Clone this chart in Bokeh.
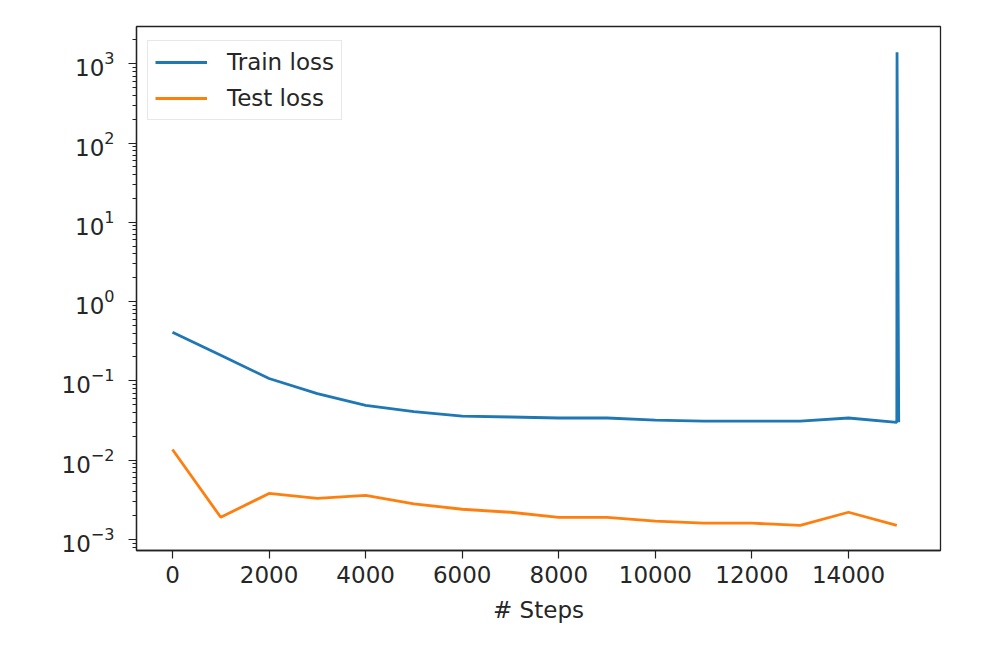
from bokeh.plotting import figure
from bokeh.models import Range1d, FixedTicker, Legend, LegendItem, BasicTickFormatter, LogTickFormatter
from bokeh.embed import file_html
from bokeh.resources import INLINE

# Data
train_steps = [0, 1000, 2000, 3000, 4000, 5000, 6000, 7000, 8000, 9000, 10000,
               11000, 12000, 13000, 14000, 15000, 15005, 15040]
train_loss = [0.41, 0.21, 0.107, 0.069, 0.049, 0.041, 0.036, 0.035, 0.034, 0.034,
              0.032, 0.031, 0.031, 0.031, 0.034, 0.030, 1400.0, 0.030]

test_steps = [0, 1000, 2000, 3000, 4000, 5000, 6000, 7000, 8000, 9000, 10000,
              11000, 12000, 13000, 14000, 15000]
test_loss = [0.0136, 0.0019, 0.0038, 0.0033, 0.0036, 0.0028, 0.0024, 0.0022, 0.0019,
             0.0019, 0.0017, 0.0016, 0.0016, 0.0015, 0.0022, 0.0015]

x_ticks = [0, 2000, 4000, 6000, 8000, 10000, 12000, 14000]
y_exponents = [-3, -2, -1, 0, 1, 2, 3]
series_names = ["Train loss", "Test loss"]
colors = ["#1f77b4", "#ff7f0e"]

FONT = "DejaVu Sans"
TXT = "#262626"
FS = "23px"

y_major = [10.0 ** k for k in y_exponents]
y_minor = [m * 10.0 ** k for k in range(y_exponents[0] - 1, y_exponents[-1] + 1) for m in range(2, 10)]

p = figure(width=1004, height=660, y_axis_type="log",
           x_range=Range1d(-745, 15905),
           y_range=Range1d(10 ** -3.14, 10 ** 3.47),
           output_backend="svg", toolbar_location=None)
p.min_border_left = 136
p.min_border_right = 64
p.min_border_top = 26
p.min_border_bottom = 110
p.background_fill_color = "white"
p.border_fill_color = "white"
p.outline_line_color = "#222222"
p.outline_line_width = 1.3
p.xgrid.visible = False
p.ygrid.visible = False

r1 = p.line(train_steps, train_loss, line_color=colors[0], line_width=2.8)
r2 = p.line(test_steps, test_loss, line_color=colors[1], line_width=2.8)

xa = p.xaxis[0]
xa.ticker = FixedTicker(ticks=x_ticks)
xa.formatter = BasicTickFormatter(use_scientific=False)
xa.axis_label = "# Steps"
xa.axis_label_text_font = FONT
xa.axis_label_text_font_size = FS
xa.axis_label_text_font_style = "normal"
xa.axis_label_text_color = TXT
xa.axis_label_standoff = 11
xa.major_label_text_font = FONT
xa.major_label_text_font_size = FS
xa.major_label_text_color = TXT
xa.major_label_standoff = 7
xa.major_tick_out = 8
xa.major_tick_in = 0
xa.axis_line_color = "#222222"
xa.major_tick_line_color = "#222222"
xa.axis_line_width = 1.3
xa.major_tick_line_width = 1.2

ya = p.yaxis[0]
ya.ticker = FixedTicker(ticks=y_major, minor_ticks=y_minor)
ya.formatter = LogTickFormatter()
ya.major_label_text_font = FONT
ya.major_label_text_font_size = FS
ya.major_label_text_color = TXT
ya.major_label_standoff = 14
ya.major_tick_out = 8
ya.major_tick_in = 0
ya.minor_tick_out = 4
ya.minor_tick_in = 0
ya.axis_line_color = "#222222"
ya.major_tick_line_color = "#222222"
ya.minor_tick_line_color = "#222222"
ya.axis_line_width = 1.3
ya.major_tick_line_width = 1.2
ya.minor_tick_line_width = 1.0

legend = Legend(items=[LegendItem(label=series_names[0], renderers=[r1]),
                       LegendItem(label=series_names[1], renderers=[r2])],
                location=(11, 430))
legend.margin = 0
legend.padding = 7
legend.spacing = 8
legend.glyph_width = 52
legend.glyph_height = 28
legend.label_standoff = 20
legend.label_text_font = FONT
legend.label_text_font_size = FS
legend.label_text_color = TXT
legend.border_line_color = "#d0d0d0"
legend.border_line_width = 1.2
legend.background_fill_alpha = 0.85
p.add_layout(legend)

open("out.html", "w").write(file_html(p, INLINE))
